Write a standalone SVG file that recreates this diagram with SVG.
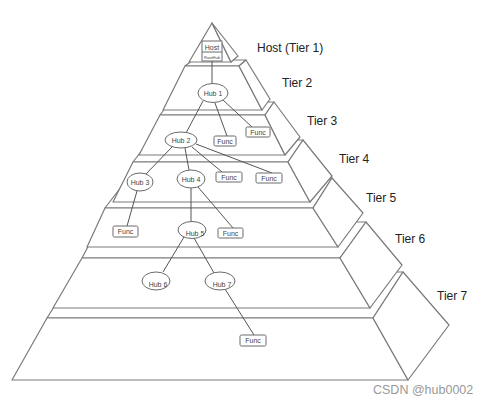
<svg xmlns="http://www.w3.org/2000/svg" width="489" height="404" viewBox="0 0 489 404">
<style>
.t{fill:#fff;stroke:#7a7a7a;stroke-width:1.2;stroke-linejoin:round}
.n{fill:#fff;stroke:#6a6a6a;stroke-width:1}
.c{stroke:#555;stroke-width:1;fill:none}
.nt{font-family:"Liberation Sans",Arial,sans-serif;font-size:7px;fill:#444;text-anchor:middle}
.lb{font-family:"Liberation Sans",Arial,sans-serif;font-size:12px;fill:#222}
</style>
<rect width="489" height="404" fill="#fff"/>
<g id="pyramid">
  <g id="tier7">
    <polygon class="t" points="47,318 373,318 403,272 76,272"/>
    <polygon class="t" points="47,318 373,318 408,380 12,380"/>
    <polygon class="t" points="373,318 403,272 449,325 408,380"/>
  </g>
  <g id="tier6">
    <polygon class="t" points="82,258 340,258 366,222 101,222"/>
    <polygon class="t" points="82,258 340,258 370,308 53,308"/>
    <polygon class="t" points="340,258 366,222 402,265 370,308"/>
  </g>
  <g id="tier5">
    <polygon class="t" points="105,208 313,208 332,178 128,178"/>
    <polygon class="t" points="105,208 313,208 338,247 87,247"/>
    <polygon class="t" points="313,208 332,178 363,213 338,247"/>
  </g>
  <g id="tier4">
    <polygon class="t" points="133,162 288,162 303,140 150,140"/>
    <polygon class="t" points="133,162 288,162 310,202 113,202"/>
    <polygon class="t" points="288,162 303,140 332,176 310,202"/>
  </g>
  <g id="tier3">
    <polygon class="t" points="160,115 265,115 274,102 170,102"/>
    <polygon class="t" points="160,115 265,115 285,155 139,155"/>
    <polygon class="t" points="265,115 274,102 300,137 285,155"/>
  </g>
  <g id="tier2">
    <polygon class="t" points="185,66 239,66 246,60 193,60"/>
    <polygon class="t" points="185,66 239,66 262,110 163,110"/>
    <polygon class="t" points="239,66 246,60 270,99 262,110"/>
  </g>
  <g id="tier1">
    <polygon class="t" points="212,23 189,62 231,62"/>
    <polygon class="t" points="212,23 238,56 231,62"/>
  </g>
</g>
<g id="connectors">
  <line class="c" x1="212" y1="61" x2="212" y2="84"/>
  <line class="c" x1="203" y1="101" x2="186" y2="133"/>
  <line class="c" x1="215" y1="103" x2="227" y2="136"/>
  <line class="c" x1="223" y1="100" x2="252" y2="127"/>
  <line class="c" x1="172" y1="147" x2="146" y2="174"/>
  <line class="c" x1="185" y1="148" x2="189" y2="170"/>
  <line class="c" x1="192" y1="147" x2="222" y2="172"/>
  <line class="c" x1="196" y1="144" x2="272" y2="173"/>
  <line class="c" x1="137" y1="191" x2="127" y2="226"/>
  <line class="c" x1="191" y1="188" x2="191" y2="222"/>
  <line class="c" x1="198" y1="187" x2="233" y2="228"/>
  <line class="c" x1="184" y1="237" x2="163" y2="272"/>
  <line class="c" x1="194" y1="238" x2="214" y2="273"/>
  <line class="c" x1="225" y1="289" x2="254" y2="335"/>
</g>
<g id="host">
  <rect class="n" x="202" y="41" width="20" height="20"/>
  <line class="n" x1="202" y1="52" x2="222" y2="52"/>
  <text class="nt" x="212" y="49.5">Host</text>
  <text class="nt" x="212" y="58.5" style="font-size:4px">RootHub</text>
</g>
<g id="hub1"><ellipse class="n" cx="213" cy="93" rx="15" ry="9.5"/><text class="nt" x="213" y="96">Hub 1</text></g>
<g id="hub2"><ellipse class="n" cx="181" cy="140" rx="16" ry="8"/><text class="nt" x="181" y="143">Hub 2</text></g>
<g id="func3a"><rect class="n" x="214" y="136" width="22" height="10" rx="1.5"/><text class="nt" x="225" y="143.5">Func</text></g>
<g id="func3b"><rect class="n" x="246" y="127" width="24" height="10" rx="1.5"/><text class="nt" x="258" y="134.5">Func</text></g>
<g id="hub3"><ellipse class="n" cx="140" cy="182" rx="13" ry="9"/><text class="nt" x="140" y="185">Hub 3</text></g>
<g id="hub4"><ellipse class="n" cx="191" cy="179" rx="14" ry="9"/><text class="nt" x="191" y="182">Hub 4</text></g>
<g id="func4a"><rect class="n" x="216" y="172" width="26" height="10" rx="1.5"/><text class="nt" x="229" y="179.5">Func</text></g>
<g id="func4b"><rect class="n" x="256" y="173" width="26" height="10" rx="1.5"/><text class="nt" x="269" y="180.5">Func</text></g>
<g id="func5a"><rect class="n" x="113" y="226" width="25" height="11" rx="1.5"/><text class="nt" x="125.5" y="234">Func</text></g>
<g id="hub5"><ellipse class="n" cx="192" cy="230" rx="14" ry="8.5"/><text class="nt" x="195" y="236">Hub 5</text></g>
<g id="func5b"><rect class="n" x="218" y="228" width="25" height="10" rx="1.5"/><text class="nt" x="230.5" y="235.5">Func</text></g>
<g id="hub6"><ellipse class="n" cx="156" cy="281" rx="14" ry="9"/><text class="nt" x="158" y="287">Hub 6</text></g>
<g id="hub7"><ellipse class="n" cx="220" cy="281" rx="15" ry="9"/><text class="nt" x="222" y="287">Hub 7</text></g>
<g id="func7"><rect class="n" x="240" y="335" width="26" height="11" rx="1.5"/><text class="nt" x="253" y="343">Func</text></g>
<g id="labels">
  <text class="lb" x="257" y="52">Host (Tier 1)</text>
  <text class="lb" x="282" y="87">Tier 2</text>
  <text class="lb" x="307" y="125">Tier 3</text>
  <text class="lb" x="339" y="163">Tier 4</text>
  <text class="lb" x="366" y="202">Tier 5</text>
  <text class="lb" x="395" y="243">Tier 6</text>
  <text class="lb" x="437" y="300">Tier 7</text>
  <text x="373" y="394" style="font-family:'Liberation Sans',Arial,sans-serif;font-size:12.5px;fill:#999">CSDN @hub0002</text>
</g>
</svg>
